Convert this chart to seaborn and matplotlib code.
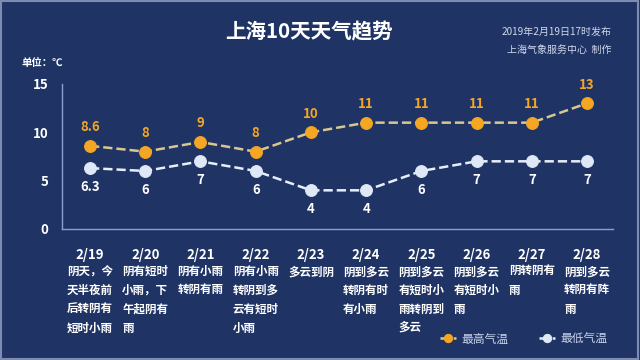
import numpy as np
import pandas as pd
import matplotlib
matplotlib.use('Agg')
import matplotlib.pyplot as plt
import seaborn as sns

## dados
dates = ['2/19', '2/20', '2/21', '2/22', '2/23', '2/24', '2/25', '2/26', '2/27', '2/28']
high = [8.6, 8, 9, 8, 10, 11, 11, 11, 11, 13]
low = [6.3, 6, 7, 6, 4, 4, 6, 7, 7, 7]
high_labels = ['8.6', '8', '9', '8', '10', '11', '11', '11', '11', '13']
low_labels = ['6.3', '6', '7', '6', '4', '4', '6', '7', '7', '7']
weather = ['阴天，今\n天半夜前\n后转阴有\n短时小雨',
           '阴有短时\n小雨，下\n午起阴有\n雨',
           '阴有小雨\n转阴有雨',
           '阴有小雨\n转阴到多\n云有短时\n小雨',
           '多云到阴',
           '阴到多云\n转阴有时\n有小雨',
           '阴到多云\n有短时小\n雨转阴到\n多云',
           '阴到多云\n有短时小\n雨',
           '阴转阴有\n雨',
           '阴到多云\n转阴有阵\n雨']
yticks = [0, 5, 10, 15]

bg = '#1f3465'
axis_color = '#8d9fcc'
orange = '#f5a623'
orange_line = '#d9c78c'
white_pt = '#dfe8f6'
white_line = '#e8eef9'

sns.set_style('dark')
plt.rcParams['font.family'] = ['Noto Sans CJK SC', 'DejaVu Sans']

df = pd.DataFrame({'pos': np.arange(len(dates)), 'high': high, 'low': low})

fig = plt.figure(figsize=(6.4, 3.6), dpi=100, facecolor=bg)
ax = fig.add_axes([0.0969, 0.3639, 0.8609, 0.4028])
ax.set_facecolor(bg)

## linhas
sns.lineplot(data=df, x='pos', y='high', ax=ax, color=orange_line, linestyle='--',
             linewidth=1.8, marker='o', markersize=8.5, markerfacecolor=orange,
             markeredgecolor=orange, label='最高气温')
sns.lineplot(data=df, x='pos', y='low', ax=ax, color=white_line, linestyle='--',
             linewidth=1.8, marker='o', markersize=8.5, markerfacecolor=white_pt,
             markeredgecolor=white_pt, label='最低气温')

## rótulos dos valores
for i in range(len(dates)):
    ax.annotate(high_labels[i], (i, high[i]), xytext=(0, 13.5), textcoords='offset points',
                ha='center', va='center', color=orange, fontsize=9.5, fontweight='bold')
    ax.annotate(low_labels[i], (i, low[i]), xytext=(0, -13.5), textcoords='offset points',
                ha='center', va='center', color='white', fontsize=9.5, fontweight='bold')

ax.set_xlim(-0.507, 9.47)
ax.set_ylim(0, 15)
ax.set_yticks(yticks)
ax.set_xticks(range(len(dates)))
ax.set_xticklabels(dates)
ax.set_xlabel('')
ax.set_ylabel('')
ax.grid(False)
ax.tick_params(axis='y', length=0, pad=10, labelcolor='white', labelsize=9.5)
ax.tick_params(axis='x', length=0, pad=14, labelcolor='white', labelsize=9.5)
for lbl in ax.get_xticklabels() + ax.get_yticklabels():
    lbl.set_fontweight('bold')
for side in ['top', 'right']:
    ax.spines[side].set_visible(False)
for side in ['left', 'bottom']:
    ax.spines[side].set_visible(True)
    ax.spines[side].set_color(axis_color)
    ax.spines[side].set_linewidth(1)

## descrições do tempo
for i, txt in enumerate(weather):
    ax.text(i, -0.25, txt, transform=ax.get_xaxis_transform(), ha='center', va='top',
            multialignment='left', color='white', fontsize=8.3, fontweight='bold',
            linespacing=1.58)

## legenda
handles, labels = ax.get_legend_handles_labels()
ax.get_legend().remove()
leg = fig.legend(handles, labels, loc='center', bbox_to_anchor=(0.818, 0.058), ncol=2,
                 frameon=False, fontsize=8.5, handlelength=1.4, columnspacing=2.6,
                 handletextpad=0.4, markerscale=0.7)
for t in leg.get_texts():
    t.set_color('#c9d2ea')

## títulos
fig.text(0.482, 0.911, '上海10天天气趋势', ha='center', va='center', color='white',
         fontsize=14.8, fontweight='bold')
fig.text(0.955, 0.911, '2019年2月19日17时发布', ha='right', va='center', color='#d0d7ea',
         fontsize=7.2)
fig.text(0.955, 0.861, '上海气象服务中心  制作', ha='right', va='center', color='#d0d7ea',
         fontsize=7.2)
fig.text(0.034, 0.825, '单位：℃', ha='left', va='center', color='white', fontsize=7.5,
         fontweight='bold')

## moldura
fig.patches.append(plt.Rectangle((0.002, 0.003), 0.995, 0.994, transform=fig.transFigure,
                                 fill=False, edgecolor='#7d8bb0', linewidth=1.5))

fig.savefig('out.png', dpi=100, facecolor=bg)
